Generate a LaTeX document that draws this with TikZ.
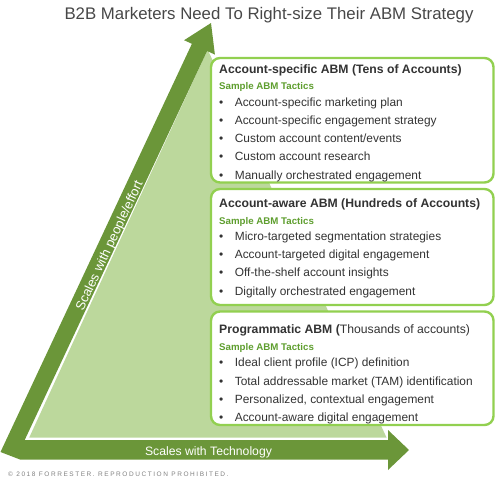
\documentclass[tikz,border=0pt]{standalone}
\usepackage{fontspec}
\setmainfont{Liberation Sans}
\definecolor{dkgreen}{HTML}{6B9639}
\definecolor{pale}{HTML}{BCD89C}
\definecolor{boxgreen}{HTML}{92D050}
\definecolor{tactic}{HTML}{5E9E2E}
\definecolor{txt}{HTML}{333333}
\definecolor{foot}{HTML}{808080}
\newcommand{\bulsep}{\hspace{11.5pt}}
\tikzset{
  panel/.style={draw=boxgreen, line width=2.4pt, rounded corners=9pt, fill=white},
  boxtitle/.style={anchor=base west, inner sep=0pt, text=txt, font=\fontsize{12.2}{14}\selectfont\bfseries},
  tacticlbl/.style={anchor=base west, inner sep=0pt, text=tactic, font=\fontsize{9.7}{11}\selectfont\bfseries},
  bul/.style={anchor=base west, inner sep=0pt, text=txt, font=\fontsize{11.9}{14}\selectfont},
  axislbl/.style={inner sep=0pt, text=white, font=\fontsize{12.2}{14}\selectfont},
}
\begin{document}
\begin{tikzpicture}[x=1pt,y=-1pt]
\useasboundingbox (0,0) rectangle (501,480);
% pale triangle
\fill[pale] (207.7,49.6) -- (29.25,437.5) -- (386.5,437.5) -- cycle;
% dark arrows (diagonal + horizontal)
\fill[dkgreen] (211,23) -- (214.9,54.6) -- (207.1,51.0) -- (24.7,440) -- (388,440) -- (388,430)
  -- (409,450) -- (388,470) -- (388,459.5) -- (20,459.5) -- (0.5,452) -- (191.9,43.8) -- (184.1,40.2) -- cycle;
% title
\node[anchor=base, inner sep=0pt, text=txt!90, font=\fontsize{16.8}{19}\selectfont] (title) at (269,19.3)
  {B2B Marketers Need To Right-size Their ABM Strategy};
% axis labels
\node[axislbl, anchor=base] (xlabel) at (208.5,455) {Scales with Technology};
\node[axislbl, rotate=64.9, font=\fontsize{13}{15}\selectfont] (ylabel) at (110,246) {Scales with people/effort};
% panels
\draw[panel] (211,58) rectangle (493.5,182.5);
\draw[panel] (211,189) rectangle (493.5,305);
\draw[panel] (211,311.5) rectangle (493.5,425);
% panel 1
\node[boxtitle] (t1) at (219,73) {Account-specific ABM (Tens of Accounts)};
\node[tacticlbl] (s1) at (219,89) {Sample ABM Tactics};
\node[bul] (b11) at (219,106) {•\bulsep Account-specific marketing plan};
\node[bul] (b12) at (219,124.3) {•\bulsep Account-specific engagement strategy};
\node[bul] (b13) at (219,142.6) {•\bulsep Custom account content/events};
\node[bul] (b14) at (219,160.9) {•\bulsep Custom account research};
\node[bul] (b15) at (219,179.2) {•\bulsep Manually orchestrated engagement};
% panel 2
\node[boxtitle] (t2) at (219,207.7) {Account-aware ABM (Hundreds of Accounts)};
\node[tacticlbl] (s2) at (219,224) {Sample ABM Tactics};
\node[bul] (b21) at (219,240) {•\bulsep Micro-targeted segmentation strategies};
\node[bul] (b22) at (219,258.3) {•\bulsep Account-targeted digital engagement};
\node[bul] (b23) at (219,276.7) {•\bulsep Off-the-shelf account insights};
\node[bul] (b24) at (219,295) {•\bulsep Digitally orchestrated engagement};
% panel 3
\node[boxtitle] (t3) at (219,333.3) {Programmatic ABM (\mdseries Thousands of accounts)};
\node[tacticlbl] (s3) at (219,350) {Sample ABM Tactics};
\node[bul] (b31) at (219,366.7) {•\bulsep Ideal client profile (ICP) definition};
\node[bul] (b32) at (219,385) {•\bulsep Total addressable market (TAM) identification};
\node[bul] (b33) at (219,403.3) {•\bulsep Personalized, contextual engagement};
\node[bul] (b34) at (219,421.7) {•\bulsep Account-aware digital engagement};
% footer
\node[anchor=base west, inner sep=0pt, text=foot, font=\fontsize{6.5}{8}\selectfont\addfontfeature{LetterSpace=24}] (footer) at (8,476)
  {© 2018 FORRESTER. REPRODUCTION PROHIBITED.};
\end{tikzpicture}
\end{document}
